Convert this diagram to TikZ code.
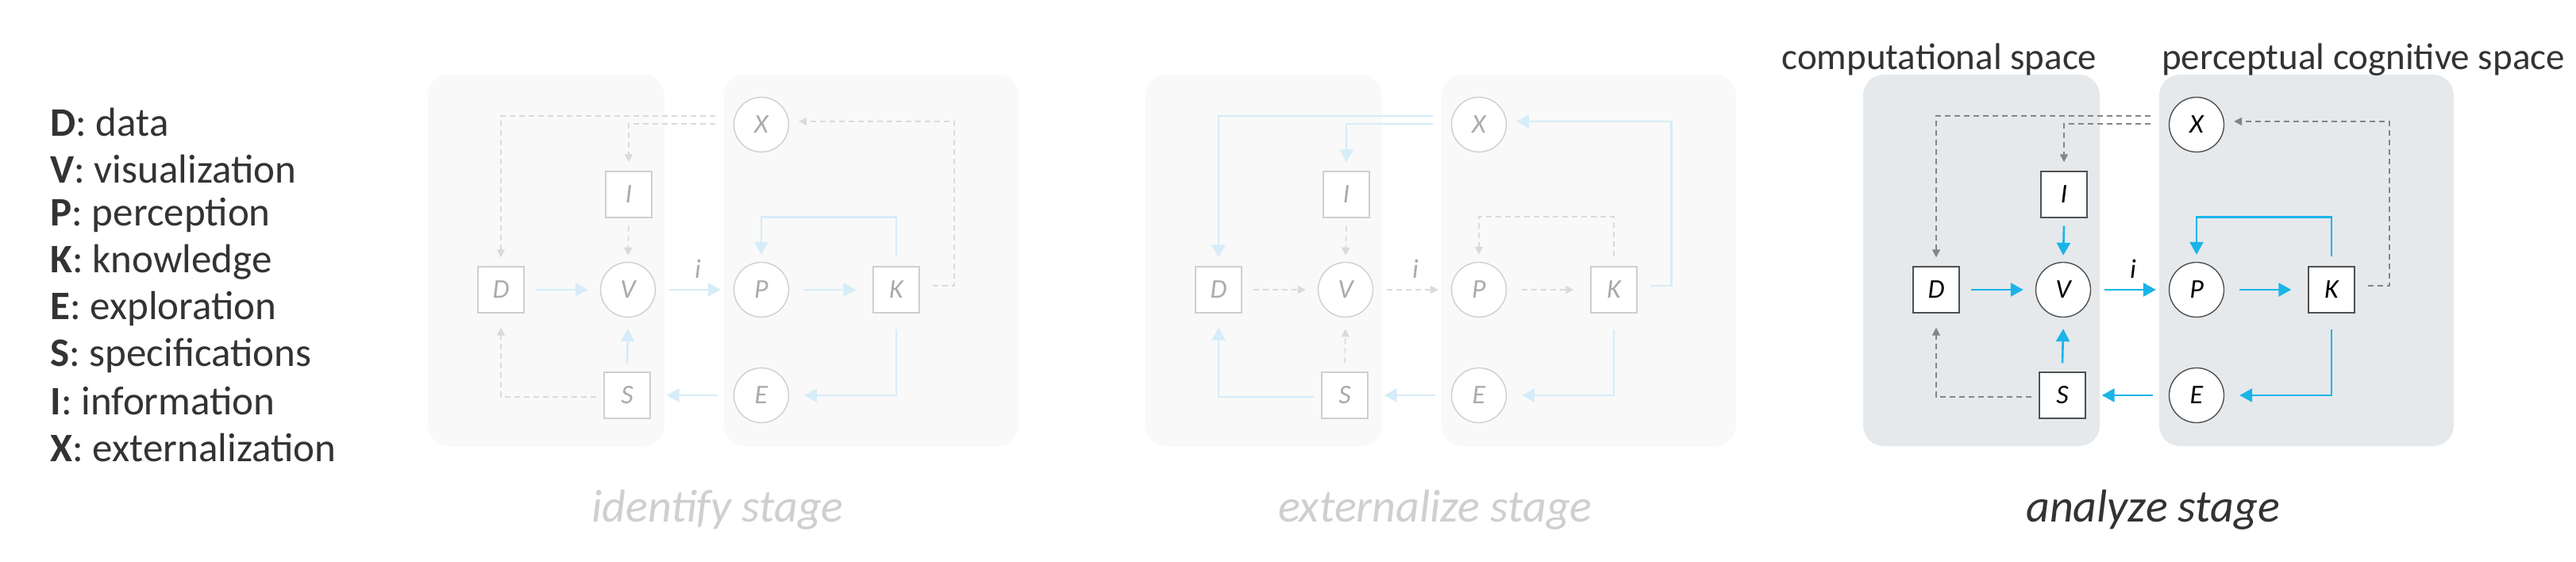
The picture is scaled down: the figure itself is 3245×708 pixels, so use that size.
\documentclass[tikz,border=0pt]{standalone}
\usepackage{fontspec}
\setmainfont{Carlito}
\usetikzlibrary{arrows.meta,calc}
\definecolor{fblue}{HTML}{D6ECF9}
\definecolor{fdash}{HTML}{DADADA}
\definecolor{fpanel}{HTML}{F9F9F9}
\definecolor{fnode}{HTML}{CFCFCF}
\definecolor{ftext}{HTML}{ABABAB}
\definecolor{ablue}{HTML}{1BB4E8}
\definecolor{adash}{HTML}{858585}
\definecolor{apanel}{HTML}{E6E9EC}
\definecolor{anode}{HTML}{505050}
\definecolor{legend}{HTML}{333333}
\tikzset{
  bl/.style={draw=\bcol, line width=2.6pt, -{Triangle[length=16pt,width=17pt]}},
  gd/.style={draw=\dcol, line width=1.6pt, dash pattern=on 7pt off 5pt, -{Triangle[length=10pt,width=10pt]}},
  cnode/.style={circle, draw=\ncol, line width=1.4pt, fill=white, minimum size=69pt, inner sep=0pt, text=\tcol, font=\fontsize{34}{38}\selectfont\itshape},
  snode/.style={rectangle, draw=\ncol, line width=1.4pt, fill=white, minimum size=58pt, inner sep=0pt, text=\tcol, font=\fontsize{34}{38}\selectfont\itshape},
  panel/.style={fill=\pcol, draw=none, rounded corners=26pt},
  ilab/.style={text=\tcol, font=\fontsize{34}{38}\selectfont\itshape},
  stagelab/.style={font=\fontsize{58}{64}\selectfont\itshape},
  sublab/.style={text=legend, font=\fontsize{47}{52}\selectfont},
  leg/.style={anchor=west, text=legend, font=\fontsize{51}{56}\selectfont}
}
% #1 prefix; edge styles: #2 DV,VP,PK,KP ; #3 KE,ES ; #4 SV ; #5 IV ; #6 XD,XI,KX,SD
\newcommand{\mystage}[6]{
  \fill[panel] (2347,94) rectangle (2645,562);
  \fill[panel] (2720,94) rectangle (3091,562);
  \node[cnode] (#1X) at (2767,157) {X};
  \node[snode] (#1I) at (2600,245) {I};
  \node[snode] (#1D) at (2439,365) {D};
  \node[cnode] (#1V) at (2599,365) {V};
  \node[cnode] (#1P) at (2767,365) {P};
  \node[snode] (#1K) at (2937,365) {K};
  \node[cnode] (#1E) at (2767,498) {E};
  \node[snode] (#1S) at (2598,498) {S};
  \node[ilab] (#1i) at (2687,339) {i};
  \draw[#2] ([xshift=14pt]#1D.east) -- ([xshift=-15pt]#1V.west);
  \draw[#2] ([xshift=17pt]#1V.east) -- ([xshift=-16pt]#1P.west);
  \draw[#2] ([xshift=19pt]#1P.east) -- ([xshift=-21pt]#1K.west);
  \draw[#2] ([yshift=12pt]#1K.north) -- ++(0,-50) -| ([yshift=9pt]#1P.north);
  \draw[#3] ([yshift=-20pt]#1K.south) |- ([xshift=19pt]#1E.east);
  \draw[#3] ([xshift=-20pt]#1E.west) -- ([xshift=20pt]#1S.east);
  \draw[#4] ([yshift=11pt]#1S.north) -- ([yshift=-14pt]#1V.south);
  \draw[#5] ([yshift=-10pt]#1I.south) -- ([yshift=8pt]#1V.north);
  \draw[#6] ([xshift=-23pt,yshift=11pt]#1X.west) -| ([yshift=11pt]#1D.north);
  \draw[#6] ([xshift=-23pt,yshift=1pt]#1X.west) -| ([yshift=11pt]#1I.north);
  \draw[#6] ([xshift=16pt,yshift=5pt]#1K.east) -- ++(27,0) |- ([xshift=12pt,yshift=4pt]#1X.east);
  \draw[#6] ([xshift=-9pt,yshift=-2pt]#1S.west) -| ([yshift=-18pt]#1D.south);
}
\begin{document}
\begin{tikzpicture}[x=1pt,y=-1pt]
\fill[white] (0,0) rectangle (3245,708);
\useasboundingbox (0,0) rectangle (3245,708);
% legend
\node[leg] (l1) at (60,154) {\textbf{D}: data};
\node[leg] (l2) at (60,213) {\textbf{V}: visualization};
\node[leg] (l3) at (60,271) {\textbf{P}: perception};
\node[leg] (l4) at (60,330) {\textbf{K}: knowledge};
\node[leg] (l5) at (60,389) {\textbf{E}: exploration};
\node[leg] (l6) at (60,448) {\textbf{S}: specifications};
\node[leg] (l7) at (60,505) {\textbf{I}: information};
\node[leg] (l8) at (60,564) {\textbf{X}: externalization};
% identify
\begin{scope}[xshift=-1808pt]
\def\bcol{fblue}\def\dcol{fdash}\def\ncol{fnode}\def\tcol{ftext}\def\pcol{fpanel}
\mystage{a}{bl}{bl}{bl}{gd}{gd}
\node[stagelab, text=fnode] (la) at (2712,642) {identify stage};
\end{scope}
% externalize
\begin{scope}[xshift=-904pt]
\def\bcol{fblue}\def\dcol{fdash}\def\ncol{fnode}\def\tcol{ftext}\def\pcol{fpanel}
\mystage{b}{gd}{bl}{gd}{gd}{bl}
\node[stagelab, text=fnode] (lb) at (2712,642) {externalize stage};
\end{scope}
% analyze
\begin{scope}
\def\bcol{ablue}\def\dcol{adash}\def\ncol{anode}\def\tcol{black}\def\pcol{apanel}
\mystage{c}{bl}{bl}{bl}{bl}{gd}
\node[stagelab, text=legend] (lc) at (2712,642) {analyze stage};
\node[sublab] (cs) at (2443,75) {computational space};
\node[sublab] (ps) at (2977,75) {perceptual cognitive space};
\end{scope}
\end{tikzpicture}
\end{document}
